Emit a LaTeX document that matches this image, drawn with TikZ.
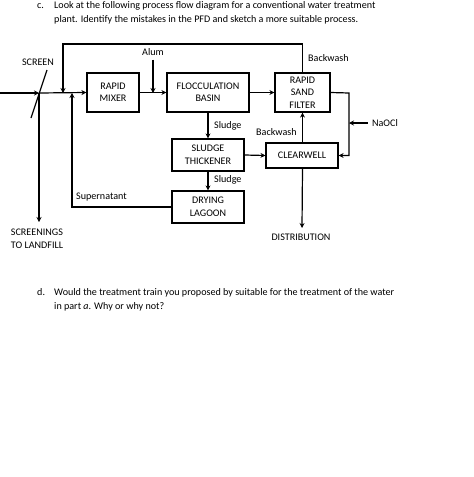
\documentclass[tikz,border=0pt]{standalone}
\usepackage{fontspec}
\setmainfont{Carlito}
\usetikzlibrary{arrows.meta}
\begin{document}
\begin{tikzpicture}[x=1pt,y=-1pt,
  every node/.style={font=\fontsize{10.1}{12.5}\selectfont, inner sep=0pt, align=center},
  box/.style={draw, line width=1.2pt},
  ln/.style={line width=1.2pt},
  arr/.style={line width=1.2pt, -{Stealth[length=5pt,width=5pt]}},
  qtext/.style={font=\fontsize{10.1}{14}\selectfont, align=left, anchor=base west}]
\useasboundingbox[fill=white] (0,0) rectangle (474,477);
% question text
\node[qtext] (qc) at (37,8) {c.};
\node[qtext] (qc1) at (54,8) {Look at the following process flow diagram for a conventional water treatment};
\node[qtext] (qc2) at (54,22) {plant. Identify the mistakes in the PFD and sketch a more suitable process.};
\node[qtext] (qd) at (37,295) {d.};
\node[qtext] (qd1) at (54,295) {Would the treatment train you proposed by suitable for the treatment of the water};
\node[qtext] (qd2) at (54,309) {in part \textit{a}. Why or why not?};
% boxes
\node[box, minimum width=52pt, minimum height=39pt] (mixer) at (113,92.5) {RAPID\\MIXER};
\node[box, minimum width=82pt, minimum height=39pt] (floc) at (208,92.5) {FLOCCULATION\\BASIN};
\node[box, minimum width=55pt, minimum height=39pt] (filter) at (302.5,92.5) {RAPID\\SAND\\FILTER};
\node[box, minimum width=72pt, minimum height=32pt] (thick) at (208,155) {SLUDGE\\THICKENER};
\node[box, minimum width=72pt, minimum height=32pt] (lagoon) at (208,207) {DRYING\\LAGOON};
\node[box, minimum width=72pt, minimum height=25pt] (clear) at (302,155.5) {CLEARWELL};
% labels
\node (screen) at (38,62) {SCREEN};
\node (alum) at (153,52) {Alum};
\node (naocl) at (385,123) {NaOCl};
\node[align=left] (scrn) at (37,239) {SCREENINGS\\TO LANDFILL};
\node (dist) at (301,237) {DISTRIBUTION};
\node[anchor=west] (bw1) at (308,58) {Backwash};
\node[anchor=west] (bw2) at (256,132) {Backwash};
\node[anchor=west] (sl1) at (214,126) {Sludge};
\node[anchor=west] (sl2) at (214,180) {Sludge};
\node[anchor=west] (sup) at (76,197) {Supernatant};
% coordinates
\coordinate (in) at (0,93);
\coordinate (scr) at (39,93);
\coordinate (s1) at (47,70);
\coordinate (s2) at (31,118);
\coordinate (bwl) at (63,44);
\coordinate (bwj) at (63,93);
\coordinate (supj) at (72,93);
\coordinate (alumj) at (153,93);
\coordinate (fr) at (349,93);
\coordinate (nj) at (349,123);
\coordinate (scrend) at (39,222);
\coordinate (distend) at (302,228);
% connectors
\draw[arr] (in) -- (scr);
\draw[arr] (scr) -- (mixer.west);
\draw[ln] (s1) -- (s2);
\draw[arr] (scr) -- (scrend);
\draw[arr] (filter.north) |- (bwl) -- (bwj);
\draw[arr] (lagoon.west) -| (supj);
\draw[arr] (alum.south) ++(0,4) -- (alumj);
\draw[arr] (mixer.east) -- (floc.west);
\draw[arr] (floc.east) -- (filter.west);
\draw[arr] (floc.south) -- (thick.north);
\draw[arr] (thick.south) -- (lagoon.north);
\draw[arr] (thick.east) -- (clear.west);
\draw[arr] (clear.north -| filter.south) -- (filter.south);
\draw[arr] (filter.east) -- (fr) |- (clear.east);
\draw[arr] (naocl.west) ++(-4,0) -- (nj);
\draw[arr] (clear.south -| filter.south) -- (distend);
\end{tikzpicture}
\end{document}
